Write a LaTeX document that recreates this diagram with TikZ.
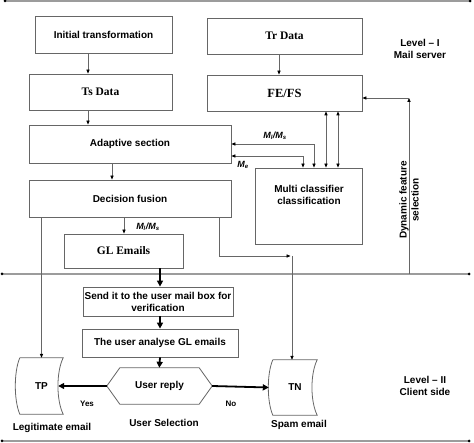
\documentclass[tikz,border=0pt]{standalone}
\usepackage{fontspec}
\setmainfont{Liberation Sans}
\newfontfamily\trfont{Liberation Serif}
\usetikzlibrary{
  arrows.meta,
  calc,
}
\definecolor{cL}{HTML}{666666}
\definecolor{cR}{HTML}{9C9C9C}

\begin{document}
\begin{tikzpicture}[x=1pt,y=-1pt,
    box/.style={draw=cL,line width=0.8pt,inner sep=0pt,align=center,font=\bfseries\fontsize{10}{12}\selectfont},
    trbox/.style={box,font=\trfont\bfseries\fontsize{11.5}{13}\selectfont},
    lbl/.style={align=center,inner sep=0pt,font=\bfseries\fontsize{10}{12}\selectfont},
    mlbl/.style={inner sep=0pt,font=\bfseries\itshape\fontsize{9}{11}\selectfont},
    arr/.style={cL,line width=0.8pt,-{Triangle[length=4pt,width=3.2pt,color=black]}},
    darr/.style={cL,line width=0.8pt,{Triangle[length=4pt,width=3.2pt,color=black]}-{Triangle[length=4pt,width=3.2pt,color=black]}},
    barr/.style={black,line width=1.8pt,-{Triangle[length=6pt,width=6pt]}},
  ]
  \useasboundingbox (0,0) rectangle (474,443);

  \foreach \y/\xl/\xr in {1/5/470,274/2/469,441/2/469}{
      \coordinate (l\y) at (\xl,\y);
      \coordinate (r\y) at (\xr,\y);
      \draw[cR,line width=1.8pt] (l\y) -- (r\y);
      \fill[black] (l\y) circle (1.5pt) (r\y) circle (1.5pt);
    }

  \node[box,minimum width=137pt,minimum height=37pt] (init) at (103.5,34.5) {Initial transformation};
  \node[trbox,minimum width=143pt,minimum height=36pt] (ts) at (100.5,92) {Ts Data};
  \node[trbox,minimum width=155pt,minimum height=36pt] (tr) at (284.5,36) {Tr Data};
  \node[trbox,minimum width=155pt,minimum height=36pt,font=\trfont\bfseries\fontsize{12.5}{14}\selectfont] (fefs) at (284.5,93) {FE/FS};
  \node[box,minimum width=202pt,minimum height=38pt] (adapt) at (130,144) {Adaptive section};
  \node[box,minimum width=202pt,minimum height=37pt] (fusion) at (130,198.5) {Decision fusion};
  \node[trbox,minimum width=119pt,minimum height=34pt] (gl) at (123.5,251) {GL Emails};
  \node[box,minimum width=107pt,minimum height=76pt] (multi) at (308.5,206) {};
  \node[lbl] (multitext) at (309,195) {Multi classifier\\classification};
  \node[box,minimum width=150pt,minimum height=29pt] (send) at (158,301.5) {Send it to the user mail box for\\verification};
  \node[box,minimum width=156pt,minimum height=28pt] (analyse) at (160,343) {The user analyse GL emails};

  \node[lbl,minimum width=105pt,minimum height=36pt] (reply) at (159.5,386) {User reply};
  \draw[cL,line width=0.8pt] (reply.west) -- ($(reply.north west)+(13,0)$) -- ($(reply.north east)+(-13,0)$)
    -- (reply.east) -- ($(reply.south east)+(-13,0)$) -- ($(reply.south west)+(13,0)$) -- cycle;

  \node[lbl,minimum width=43pt,minimum height=56pt] (tp) at (41.5,386) {TP};
  \draw[cL,line width=0.8pt] (tp.north west) -- (tp.north east)
    .. controls ($(tp.north east)+(-7,14)$) and ($(tp.south east)+(-7,-14)$) .. (tp.south east)
    -- (tp.south west)
    .. controls ($(tp.south west)+(-6,-14)$) and ($(tp.north west)+(-6,14)$) .. (tp.north west);

  \node[lbl,minimum width=44pt,minimum height=55pt] (tn) at (295,387.5) {TN};
  \draw[cL,line width=0.8pt] (tn.north west) -- (tn.north east)
    .. controls ($(tn.north east)+(-7,14)$) and ($(tn.south east)+(-7,-14)$) .. (tn.south east)
    -- (tn.south west)
    .. controls ($(tn.south west)+(-6,-14)$) and ($(tn.north west)+(-6,14)$) .. (tn.north west);

  \coordinate (c1) at (88,0);
  \coordinate (c2) at (112,0);
  \coordinate (c3) at (279,0);
  \coordinate (c4) at (124,0);
  \coordinate (c5) at (160,0);
  \coordinate (c6) at (219,0);
  \coordinate (mlms) at (314,144);
  \coordinate (me) at (303,156);
  \coordinate (fb) at (292,256);
  \coordinate (dyn) at (409,98);

  \draw[arr] (init.south -| c1) -- (ts.north -| c1);
  \draw[arr] (ts.south -| c1) -- (adapt.north -| c1);
  \draw[arr] (adapt.south -| c2) -- (fusion.north -| c2);
  \draw[arr] (tr.south -| c3) -- (fefs.north -| c3);
  \draw[arr] (fusion.south -| c4) -- (gl.north -| c4);
  \draw[darr] (adapt.east |- mlms) -| (multi.north -| mlms);
  \draw[darr] (adapt.east |- me) -| (multi.north -| me);
  \foreach \x in {326,338}{
      \draw[darr] (fefs.south -| \x,0) -- (multi.north -| \x,0);
    }
  \draw[arr] (dyn |- r274) -- (dyn);
  \draw[arr] (dyn) -- (fefs.east |- dyn);
  \draw[arr] (fusion.south -| tp) -- (tp.north);
  \draw[arr] (fusion.south -| c6) |- ($(fb)+(-1.5,0)$);
  \draw[arr] (fb) -- (fb |- tn.north);

  \draw[barr] (gl.south -| c5) -- (send.north -| c5);
  \draw[barr] (send.south -| c5) -- (analyse.north -| c5);
  \draw[barr] (analyse.south -| c5) -- ($(reply.north west)+(52.5,0)$);
  \draw[barr] (reply.west) -- ($(tp.east)+(-5,0)$);
  \draw[barr] (reply.east) -- ($(tn.west)+(-4,0)$);

  \node[mlbl] (lblA) at (275,136) {M\textsubscript{l}/M\textsubscript{s}};
  \node[mlbl] (lblB) at (243,165) {M\textsubscript{e}};
  \node[mlbl] (lblC) at (148,227) {M\textsubscript{l}/M\textsubscript{s}};
  \node[lbl,rotate=90] (dfs) at (409,200) {Dynamic feature\\selection};
  \node[lbl] (lev1) at (420,49) {Level – I\\Mail server};
  \node[lbl] (lev2) at (425,386) {Level – II\\Client side};
  \node[lbl,font=\bfseries\fontsize{8}{10}\selectfont] (yes) at (87,404) {Yes};
  \node[lbl,font=\bfseries\fontsize{8}{10}\selectfont] (no) at (231,404) {No};
  \node[lbl] (legit) at (52,428) {Legitimate email};
  \node[lbl] (usel) at (164,423) {User Selection};
  \node[lbl] (spam) at (299,425) {Spam email};
\end{tikzpicture}
\end{document}
